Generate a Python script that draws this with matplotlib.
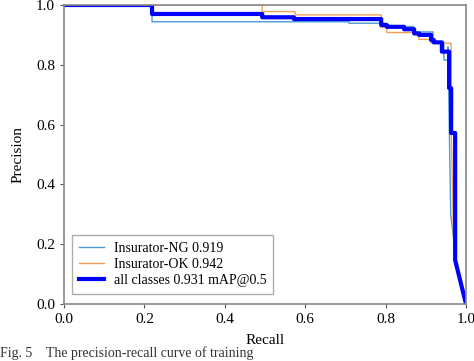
import numpy as np
import matplotlib
matplotlib.use('Agg')
import matplotlib.pyplot as plt

plt.rcParams['font.family'] = ['Liberation Serif', 'DejaVu Serif']

''' данные кривых precision-recall (вершины ломаных) '''

r_ng = [0.0, 0.219, 0.219, 0.709, 0.709, 0.800, 0.800, 0.870, 0.870, 0.918,
        0.918, 0.945, 0.945, 0.955, 0.955, 0.962, 0.975, 1.0]
p_ng = [1.0, 1.0, 0.944, 0.944, 0.939, 0.939, 0.928, 0.928, 0.910, 0.910,
        0.875, 0.875, 0.816, 0.816, 0.86, 0.30, 0.15, 0.0]

r_ok = [0.0, 0.493, 0.493, 0.575, 0.575, 0.789, 0.789, 0.803, 0.803, 0.883,
        0.883, 0.913, 0.913, 0.963, 0.963, 0.970, 1.0]
p_ok = [1.0, 1.0, 0.978, 0.978, 0.967, 0.967, 0.925, 0.925, 0.908, 0.908,
        0.885, 0.885, 0.872, 0.872, 0.60, 0.16, 0.0]

r_all = [0.0, 0.219, 0.219, 0.493, 0.493, 0.572, 0.572, 0.789, 0.789, 0.803,
         0.803, 0.846, 0.846, 0.871, 0.871, 0.883, 0.883, 0.913, 0.913, 0.920,
         0.920, 0.940, 0.940, 0.945, 0.945, 0.958, 0.958, 0.963, 0.963, 0.973,
         0.973, 1.0]
p_all = [1.0, 1.0, 0.970, 0.970, 0.959, 0.959, 0.953, 0.953, 0.933, 0.933,
         0.927, 0.927, 0.919, 0.919, 0.905, 0.905, 0.900, 0.900, 0.883, 0.883,
         0.875, 0.875, 0.844, 0.844, 0.844, 0.844, 0.722, 0.722, 0.572, 0.572,
         0.147, 0.0]

labels = ['Insurator-NG 0.919', 'Insurator-OK 0.942', 'all classes 0.931 mAP@0.5']
ticks = [0.0, 0.2, 0.4, 0.6, 0.8, 1.0]

fig = plt.figure(figsize=(4.74, 3.61), dpi=100)
ax = fig.add_axes([64/474, 1 - 304/361, 402/474, 299/361])

ax.plot(r_ng, p_ng, color='#4c9bd6', lw=1, label=labels[0])
ax.plot(r_ok, p_ok, color='#f5a05a', lw=1, label=labels[1])
ax.plot(r_all, p_all, color='#0000ff', lw=3, label=labels[2])

ax.set_xlim(0, 1)
ax.set_ylim(0, 1)
ax.set_xticks(ticks)
ax.set_yticks(ticks)
ax.tick_params(labelsize=11, length=3, color='#555555')
for s in ax.spines.values():
	s.set_color('#888888')
	s.set_linewidth(1.2)

ax.set_xlabel('Recall', fontsize=11, labelpad=6)
ax.set_ylabel('Precision', fontsize=11, labelpad=8)

leg = ax.legend(loc='lower left', bbox_to_anchor=(0.02, 0.035), borderaxespad=0,
		fontsize=10, frameon=True, fancybox=False, handlelength=1.8,
		handletextpad=0.7, borderpad=0.5, labelspacing=0.2)
leg.get_frame().set_edgecolor('#999999')

fig.text(0.0, 1/361, 'Fig. 5    The precision-recall curve of training',
	 fontsize=10, va='bottom', ha='left', color='#333333')

fig.savefig('out.png', dpi=100)
